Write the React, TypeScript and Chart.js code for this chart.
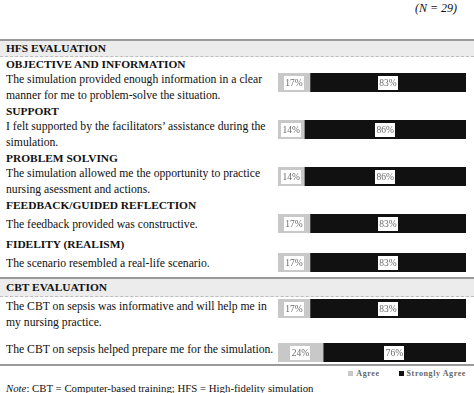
import React, { useEffect, useRef } from "react";
import { Chart, registerables } from "chart.js";

Chart.register(...registerables);

// Survey results (N = 29)
const sampleSize = 29;
const sections = ["HFS EVALUATION", "CBT EVALUATION"];
const itemSection = [0, 0, 0, 0, 0, 1, 1];
const categories = [
  "OBJECTIVE AND INFORMATION",
  "SUPPORT",
  "PROBLEM SOLVING",
  "FEEDBACK/GUIDED REFLECTION",
  "FIDELITY (REALISM)",
  "",
  "",
];
const statements = [
  ["The simulation provided enough information in a clear", "manner for me to problem-solve the situation."],
  ["I felt supported by the facilitators\u2019 assistance during the", "simulation."],
  ["The simulation allowed me the opportunity to practice", "nursing asessment and actions."],
  ["The feedback provided was constructive."],
  ["The scenario resembled a real-life scenario."],
  ["The CBT on sepsis was informative and will help me in", "my nursing practice."],
  ["The CBT on sepsis helped prepare me for the simulation."],
];
const agree = [17, 14, 14, 17, 17, 17, 24];
const stronglyAgree = [83, 86, 86, 83, 83, 83, 76];
const seriesNames = ["Agree", "Strongly Agree"];
const seriesColors = ["#c8c8c8", "#111111"];
const noteText = "CBT = Computer-based training; HFS = High-fidelity simulation";

const FONT = '"Liberation Serif", "Times New Roman", serif';

// White value boxes centred on each bar segment
const valueBoxes = {
  id: "valueBoxes",
  afterDatasetsDraw(chart: any) {
    const ctx = chart.ctx;
    ctx.save();
    ctx.font = `9.5px ${FONT}`;
    ctx.textAlign = "center";
    ctx.textBaseline = "middle";
    chart.data.datasets.forEach((ds: any, i: number) => {
      const meta = chart.getDatasetMeta(i);
      meta.data.forEach((el: any, j: number) => {
        const { x, base, y } = el.getProps(["x", "base", "y"], true);
        const cx = (x + base) / 2;
        const text = `${ds.data[j]}%`;
        const w = ctx.measureText(text).width + 3;
        const h = 14;
        ctx.fillStyle = "#ffffff";
        ctx.fillRect(Math.round(cx - w / 2), Math.round(y - h / 2), Math.round(w), h);
        ctx.fillStyle = "#6a6a6a";
        ctx.fillText(text, cx, y + 0.5);
      });
    });
    ctx.restore();
  },
};

function BarRow({ a, s }: { a: number; s: number }) {
  const ref = useRef<HTMLCanvasElement | null>(null);
  useEffect(() => {
    if (!ref.current) return;
    const chart = new Chart(ref.current, {
      type: "bar",
      data: {
        labels: [""],
        datasets: [
          { label: seriesNames[0], data: [a], backgroundColor: seriesColors[0] },
          { label: seriesNames[1], data: [s], backgroundColor: seriesColors[1] },
        ],
      },
      options: {
        indexAxis: "y",
        animation: false,
        responsive: true,
        maintainAspectRatio: false,
        layout: { padding: 0 },
        datasets: { bar: { barPercentage: 1, categoryPercentage: 1 } },
        scales: {
          x: { stacked: true, min: 0, max: 100, display: false },
          y: { stacked: true, display: false },
        },
        plugins: { legend: { display: false }, tooltip: { enabled: false } },
      } as any,
      plugins: [valueBoxes],
    });
    return () => chart.destroy();
  }, [a, s]);
  return (
    <div style={{ position: "absolute", left: 278, top: 1, width: 188, height: 19 }}>
      <canvas ref={ref} />
    </div>
  );
}

const sectionHeader = (h: number): React.CSSProperties => ({
  borderTop: "2px solid #9a9a9a",
  borderBottom: "1px dashed #bdbdbd",
  background: "#ececec",
  height: h,
  lineHeight: `${h}px`,
  paddingLeft: 6,
  fontWeight: 700,
  fontSize: 11.4,
});

function Item({ idx }: { idx: number }) {
  const lines = statements[idx];
  const inCbt = itemSection[idx] === 1;
  const single = lines.length === 1;
  let style: React.CSSProperties = { position: "relative", fontSize: 11.7, lineHeight: "16px", paddingLeft: 6 };
  if (!inCbt) {
    style = { ...style, paddingTop: single ? 4 : 0, height: single ? (idx === 4 ? 21 : 20) : 32 };
  } else if (idx === 5) {
    style = { ...style, paddingTop: 2, height: 32 };
  } else {
    style = { ...style, marginTop: 10, paddingTop: 1, height: 22 };
  }
  return (
    <div style={style}>
      {lines.map((l, k) => (
        <div key={k} style={{ whiteSpace: "nowrap" }}>{l}</div>
      ))}
      <div style={{ position: "absolute", left: 0, top: inCbt ? 1 : 0, width: 0, height: 0 }}>
        <BarRow a={agree[idx]} s={stronglyAgree[idx]} />
      </div>
    </div>
  );
}

export default function App() {
  const idxs = statements.map((_, i) => i);
  return (
    <div
      style={{
        position: "absolute",
        left: 0,
        top: 0,
        width: 474,
        height: 393,
        background: "#ffffff",
        fontFamily: FONT,
        color: "#111",
        overflow: "hidden",
      }}
    >
      <div style={{ height: 39, position: "relative" }}>
        <div style={{ position: "absolute", right: 17, top: 0, lineHeight: "16px", fontSize: 12, fontStyle: "italic" }}>
          (<i>N</i> = {sampleSize})
        </div>
      </div>
      <div style={sectionHeader(15)}>{sections[0]}</div>
      {idxs
        .filter((i) => itemSection[i] === 0)
        .map((i) => (
          <React.Fragment key={i}>
            <div style={{ height: 15, lineHeight: "15px", paddingLeft: 6, fontWeight: 700, fontSize: 11.4 }}>
              {categories[i]}
            </div>
            <Item idx={i} />
          </React.Fragment>
        ))}
      <div style={sectionHeader(17)}>{sections[1]}</div>
      {idxs
        .filter((i) => itemSection[i] === 1)
        .map((i) => (
          <Item key={i} idx={i} />
        ))}
      <div style={{ borderTop: "2px solid #9a9a9a", height: 15, display: "flex", justifyContent: "flex-end", alignItems: "center", paddingRight: 8, gap: 19, fontSize: 8, fontWeight: 700, letterSpacing: 0.6, color: "#666" }}>
        {seriesNames.map((n, k) => (
          <span key={n} style={{ display: "flex", alignItems: "center", gap: 3 }}>
            <span style={{ display: "inline-block", width: 5, height: 5, background: seriesColors[k] }} />
            {n}
          </span>
        ))}
      </div>
      <div style={{ lineHeight: "14px", fontSize: 10.8, paddingLeft: 6 }}>
        <i>Note</i>: {noteText}
      </div>
    </div>
  );
}
